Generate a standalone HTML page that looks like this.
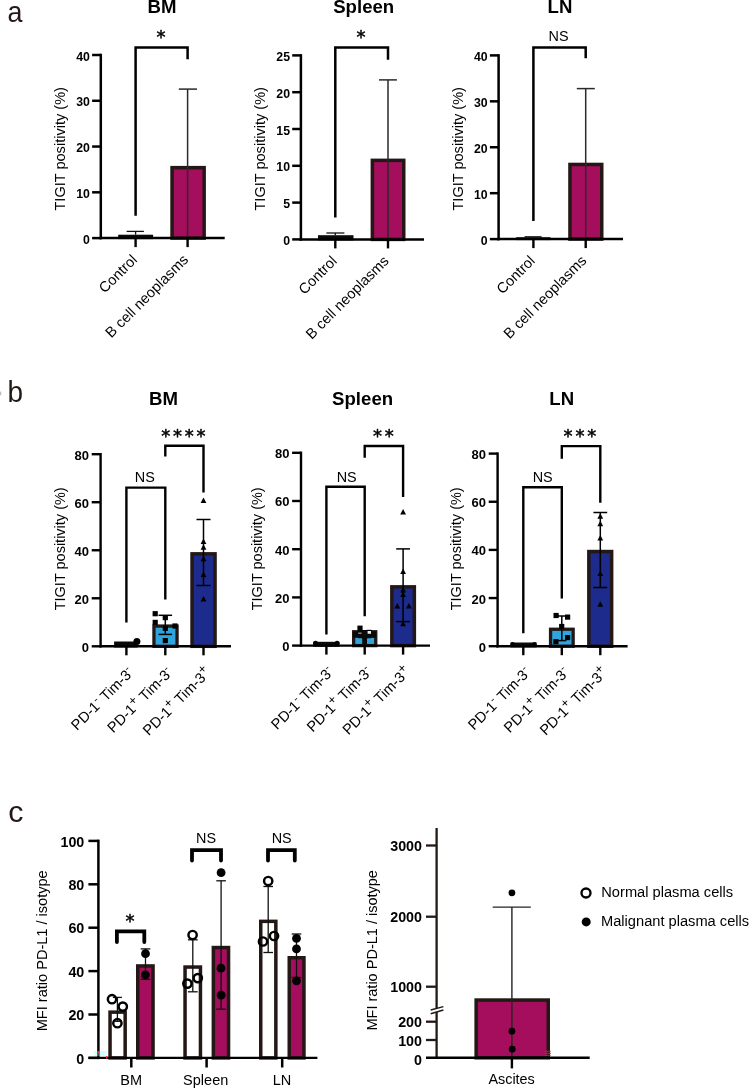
<!DOCTYPE html>
<html><head><meta charset="utf-8"><title>Figure</title>
<style>
html,body{margin:0;padding:0;background:#fff;}
body{width:749px;height:1088px;overflow:hidden;}
svg{display:block;}
text{font-family:'Liberation Sans', Arial, sans-serif;}
</style></head><body>
<svg width="749" height="1088" viewBox="0 0 749 1088">
<rect width="749" height="1088" fill="#fff"/>
<text x="7.50" y="21.50" font-size="29.8" font-weight="normal" text-anchor="start" fill="#231815" textLength="14.92" lengthAdjust="spacingAndGlyphs">a</text>
<text x="7.40" y="401.50" font-size="29.5" font-weight="normal" text-anchor="start" fill="#231815" textLength="15.57" lengthAdjust="spacingAndGlyphs">b</text>
<text x="8.30" y="822.40" font-size="30.4" font-weight="normal" text-anchor="start" fill="#231815">c</text>
<rect x="0" y="391.6" width="1.2" height="3.7" fill="#bbb"/>
<line x1="100.80" y1="53.75" x2="100.80" y2="239.35" stroke="#000" stroke-width="2.5" stroke-linecap="butt"/>
<line x1="92.10" y1="238.10" x2="100.80" y2="238.10" stroke="#000" stroke-width="2.5" stroke-linecap="butt"/>
<text x="89.90" y="243.61" font-size="12.3" font-weight="bold" text-anchor="end" fill="#000">0</text>
<line x1="92.10" y1="192.32" x2="100.80" y2="192.32" stroke="#000" stroke-width="2.5" stroke-linecap="butt"/>
<text x="89.90" y="197.84" font-size="12.3" font-weight="bold" text-anchor="end" fill="#000">10</text>
<line x1="92.10" y1="146.55" x2="100.80" y2="146.55" stroke="#000" stroke-width="2.5" stroke-linecap="butt"/>
<text x="89.90" y="152.06" font-size="12.3" font-weight="bold" text-anchor="end" fill="#000">20</text>
<line x1="92.10" y1="100.78" x2="100.80" y2="100.78" stroke="#000" stroke-width="2.5" stroke-linecap="butt"/>
<text x="89.90" y="106.29" font-size="12.3" font-weight="bold" text-anchor="end" fill="#000">30</text>
<line x1="92.10" y1="55.00" x2="100.80" y2="55.00" stroke="#000" stroke-width="2.5" stroke-linecap="butt"/>
<text x="89.90" y="60.51" font-size="12.3" font-weight="bold" text-anchor="end" fill="#000">40</text>
<rect x="119.20" y="235.70" width="32.90" height="2.40" fill="#0a0a0a" stroke="#0a0a0a" stroke-width="2"/>
<rect x="172.05" y="167.65" width="32.10" height="70.45" fill="#a50d5d" stroke="#231815" stroke-width="3.5"/>
<line x1="135.60" y1="231.40" x2="135.60" y2="234.70" stroke="#111" stroke-width="1.3" stroke-linecap="butt"/>
<line x1="126.60" y1="231.40" x2="143.90" y2="231.40" stroke="#111" stroke-width="1.3" stroke-linecap="butt"/>
<line x1="187.60" y1="89.10" x2="187.60" y2="238.10" stroke="#2a2a2a" stroke-width="1.5" stroke-linecap="butt"/>
<line x1="178.80" y1="89.10" x2="197.00" y2="89.10" stroke="#2a2a2a" stroke-width="1.5" stroke-linecap="butt"/>
<line x1="99.55" y1="238.10" x2="224.70" y2="238.10" stroke="#000" stroke-width="2.5" stroke-linecap="butt"/>
<line x1="135.60" y1="238.10" x2="135.60" y2="247.10" stroke="#000" stroke-width="2.4" stroke-linecap="butt"/>
<line x1="187.60" y1="238.10" x2="187.60" y2="247.10" stroke="#000" stroke-width="2.4" stroke-linecap="butt"/>
<polyline points="135.60,215.70 135.60,47.50 187.60,47.50 187.60,59.20" fill="none" stroke="#000" stroke-width="2.5" stroke-linejoin="miter" stroke-linecap="butt"/>
<text x="162.00" y="13.10" font-size="18.6" font-weight="bold" text-anchor="middle" fill="#000">BM</text>
<text x="160.90" y="43.10" font-size="18.0" text-anchor="middle" style="font-family:'DejaVu Sans', sans-serif" fill="#000" stroke="#000" stroke-width="0.5" stroke-linejoin="round">*</text>
<text x="64.80" y="148.80" font-size="14.7" font-weight="normal" text-anchor="middle" fill="#000" transform="rotate(-90 64.80 148.80)" textLength="123.5" lengthAdjust="spacingAndGlyphs">TIGIT positivity (%)</text>
<text x="138.10" y="260.60" font-size="14.6" font-weight="normal" text-anchor="end" fill="#000" transform="rotate(-45 138.10 260.60)">Control</text>
<text x="189.30" y="260.60" font-size="14.6" font-weight="normal" text-anchor="end" fill="#000" transform="rotate(-45 189.30 260.60)">B cell neoplasms</text>
<line x1="300.90" y1="54.15" x2="300.90" y2="240.65" stroke="#000" stroke-width="2.5" stroke-linecap="butt"/>
<line x1="292.20" y1="239.40" x2="300.90" y2="239.40" stroke="#000" stroke-width="2.5" stroke-linecap="butt"/>
<text x="290.00" y="244.91" font-size="12.3" font-weight="bold" text-anchor="end" fill="#000">0</text>
<line x1="292.20" y1="202.60" x2="300.90" y2="202.60" stroke="#000" stroke-width="2.5" stroke-linecap="butt"/>
<text x="290.00" y="208.11" font-size="12.3" font-weight="bold" text-anchor="end" fill="#000">5</text>
<line x1="292.20" y1="165.80" x2="300.90" y2="165.80" stroke="#000" stroke-width="2.5" stroke-linecap="butt"/>
<text x="290.00" y="171.31" font-size="12.3" font-weight="bold" text-anchor="end" fill="#000">10</text>
<line x1="292.20" y1="129.00" x2="300.90" y2="129.00" stroke="#000" stroke-width="2.5" stroke-linecap="butt"/>
<text x="290.00" y="134.51" font-size="12.3" font-weight="bold" text-anchor="end" fill="#000">15</text>
<line x1="292.20" y1="92.20" x2="300.90" y2="92.20" stroke="#000" stroke-width="2.5" stroke-linecap="butt"/>
<text x="290.00" y="97.71" font-size="12.3" font-weight="bold" text-anchor="end" fill="#000">20</text>
<line x1="292.20" y1="55.40" x2="300.90" y2="55.40" stroke="#000" stroke-width="2.5" stroke-linecap="butt"/>
<text x="290.00" y="60.91" font-size="12.3" font-weight="bold" text-anchor="end" fill="#000">25</text>
<rect x="319.00" y="236.20" width="33.50" height="3.20" fill="#0a0a0a" stroke="#0a0a0a" stroke-width="2"/>
<rect x="372.35" y="160.35" width="31.40" height="79.05" fill="#a50d5d" stroke="#231815" stroke-width="3.5"/>
<line x1="335.30" y1="233.00" x2="335.30" y2="235.20" stroke="#111" stroke-width="1.3" stroke-linecap="butt"/>
<line x1="326.40" y1="233.00" x2="344.40" y2="233.00" stroke="#111" stroke-width="1.3" stroke-linecap="butt"/>
<line x1="388.00" y1="79.90" x2="388.00" y2="239.40" stroke="#2a2a2a" stroke-width="1.5" stroke-linecap="butt"/>
<line x1="379.00" y1="79.90" x2="396.90" y2="79.90" stroke="#2a2a2a" stroke-width="1.5" stroke-linecap="butt"/>
<line x1="299.65" y1="239.40" x2="424.00" y2="239.40" stroke="#000" stroke-width="2.5" stroke-linecap="butt"/>
<line x1="335.30" y1="239.40" x2="335.30" y2="248.40" stroke="#000" stroke-width="2.4" stroke-linecap="butt"/>
<line x1="388.00" y1="239.40" x2="388.00" y2="248.40" stroke="#000" stroke-width="2.4" stroke-linecap="butt"/>
<polyline points="335.30,217.60 335.30,47.50 388.00,47.50 388.00,59.70" fill="none" stroke="#000" stroke-width="2.5" stroke-linejoin="miter" stroke-linecap="butt"/>
<text x="363.70" y="13.10" font-size="18.6" font-weight="bold" text-anchor="middle" fill="#000">Spleen</text>
<text x="361.00" y="43.10" font-size="18.0" text-anchor="middle" style="font-family:'DejaVu Sans', sans-serif" fill="#000" stroke="#000" stroke-width="0.5" stroke-linejoin="round">*</text>
<text x="264.80" y="148.80" font-size="14.7" font-weight="normal" text-anchor="middle" fill="#000" transform="rotate(-90 264.80 148.80)" textLength="123.5" lengthAdjust="spacingAndGlyphs">TIGIT positivity (%)</text>
<text x="337.80" y="261.90" font-size="14.6" font-weight="normal" text-anchor="end" fill="#000" transform="rotate(-45 337.80 261.90)">Control</text>
<text x="389.70" y="261.90" font-size="14.6" font-weight="normal" text-anchor="end" fill="#000" transform="rotate(-45 389.70 261.90)">B cell neoplasms</text>
<line x1="498.60" y1="54.15" x2="498.60" y2="240.35" stroke="#000" stroke-width="2.5" stroke-linecap="butt"/>
<line x1="489.90" y1="239.10" x2="498.60" y2="239.10" stroke="#000" stroke-width="2.5" stroke-linecap="butt"/>
<text x="487.70" y="244.61" font-size="12.3" font-weight="bold" text-anchor="end" fill="#000">0</text>
<line x1="489.90" y1="193.18" x2="498.60" y2="193.18" stroke="#000" stroke-width="2.5" stroke-linecap="butt"/>
<text x="487.70" y="198.69" font-size="12.3" font-weight="bold" text-anchor="end" fill="#000">10</text>
<line x1="489.90" y1="147.25" x2="498.60" y2="147.25" stroke="#000" stroke-width="2.5" stroke-linecap="butt"/>
<text x="487.70" y="152.76" font-size="12.3" font-weight="bold" text-anchor="end" fill="#000">20</text>
<line x1="489.90" y1="101.33" x2="498.60" y2="101.33" stroke="#000" stroke-width="2.5" stroke-linecap="butt"/>
<text x="487.70" y="106.84" font-size="12.3" font-weight="bold" text-anchor="end" fill="#000">30</text>
<line x1="489.90" y1="55.40" x2="498.60" y2="55.40" stroke="#000" stroke-width="2.5" stroke-linecap="butt"/>
<text x="487.70" y="60.91" font-size="12.3" font-weight="bold" text-anchor="end" fill="#000">40</text>
<rect x="517.20" y="238.20" width="32.30" height="0.90" fill="#0a0a0a" stroke="#0a0a0a" stroke-width="2"/>
<rect x="569.95" y="164.45" width="31.80" height="74.65" fill="#a50d5d" stroke="#231815" stroke-width="3.5"/>
<line x1="533.40" y1="236.80" x2="533.40" y2="237.20" stroke="#111" stroke-width="1.3" stroke-linecap="butt"/>
<line x1="524.60" y1="236.80" x2="541.60" y2="236.80" stroke="#111" stroke-width="1.3" stroke-linecap="butt"/>
<line x1="585.70" y1="88.60" x2="585.70" y2="239.10" stroke="#2a2a2a" stroke-width="1.5" stroke-linecap="butt"/>
<line x1="576.80" y1="88.60" x2="594.80" y2="88.60" stroke="#2a2a2a" stroke-width="1.5" stroke-linecap="butt"/>
<line x1="497.35" y1="239.10" x2="623.00" y2="239.10" stroke="#000" stroke-width="2.5" stroke-linecap="butt"/>
<line x1="533.40" y1="239.10" x2="533.40" y2="248.10" stroke="#000" stroke-width="2.4" stroke-linecap="butt"/>
<line x1="585.70" y1="239.10" x2="585.70" y2="248.10" stroke="#000" stroke-width="2.4" stroke-linecap="butt"/>
<polyline points="533.40,220.90 533.40,47.50 585.70,47.50 585.70,58.20" fill="none" stroke="#000" stroke-width="2.5" stroke-linejoin="miter" stroke-linecap="butt"/>
<text x="560.00" y="13.10" font-size="18.6" font-weight="bold" text-anchor="middle" fill="#000">LN</text>
<text x="558.50" y="40.70" font-size="14.4" font-weight="normal" text-anchor="middle" fill="#000">NS</text>
<text x="462.60" y="148.80" font-size="14.7" font-weight="normal" text-anchor="middle" fill="#000" transform="rotate(-90 462.60 148.80)" textLength="123.5" lengthAdjust="spacingAndGlyphs">TIGIT positivity (%)</text>
<text x="535.90" y="261.60" font-size="14.6" font-weight="normal" text-anchor="end" fill="#000" transform="rotate(-45 535.90 261.60)">Control</text>
<text x="587.40" y="261.60" font-size="14.6" font-weight="normal" text-anchor="end" fill="#000" transform="rotate(-45 587.40 261.60)">B cell neoplasms</text>
<line x1="100.60" y1="453.00" x2="100.60" y2="647.50" stroke="#000" stroke-width="2.4" stroke-linecap="butt"/>
<line x1="91.70" y1="646.30" x2="100.60" y2="646.30" stroke="#000" stroke-width="2.4" stroke-linecap="butt"/>
<text x="89.00" y="651.76" font-size="13" font-weight="bold" text-anchor="end" fill="#000">0</text>
<line x1="91.70" y1="598.27" x2="100.60" y2="598.27" stroke="#000" stroke-width="2.4" stroke-linecap="butt"/>
<text x="89.00" y="603.74" font-size="13" font-weight="bold" text-anchor="end" fill="#000">20</text>
<line x1="91.70" y1="550.25" x2="100.60" y2="550.25" stroke="#000" stroke-width="2.4" stroke-linecap="butt"/>
<text x="89.00" y="555.71" font-size="13" font-weight="bold" text-anchor="end" fill="#000">40</text>
<line x1="91.70" y1="502.22" x2="100.60" y2="502.22" stroke="#000" stroke-width="2.4" stroke-linecap="butt"/>
<text x="89.00" y="507.68" font-size="13" font-weight="bold" text-anchor="end" fill="#000">60</text>
<line x1="91.70" y1="454.20" x2="100.60" y2="454.20" stroke="#000" stroke-width="2.4" stroke-linecap="butt"/>
<text x="89.00" y="459.66" font-size="13" font-weight="bold" text-anchor="end" fill="#000">80</text>
<rect x="115.30" y="642.70" width="21.00" height="3.60" fill="#0a0a0a" stroke="#0a0a0a" stroke-width="2.4"/>
<rect x="153.95" y="626.05" width="23.10" height="20.25" fill="#2fa5dd" stroke="#231815" stroke-width="3.3"/>
<rect x="192.05" y="553.85" width="23.00" height="92.45" fill="#1c2b8c" stroke="#231815" stroke-width="3.5"/>
<circle cx="136.90" cy="641.40" r="3.5" fill="#000"/>
<line x1="165.30" y1="615.30" x2="165.30" y2="634.40" stroke="#000" stroke-width="1.5" stroke-linecap="butt"/>
<line x1="158.50" y1="615.30" x2="172.10" y2="615.30" stroke="#000" stroke-width="1.5" stroke-linecap="butt"/>
<line x1="158.50" y1="634.40" x2="172.10" y2="634.40" stroke="#000" stroke-width="1.5" stroke-linecap="butt"/>
<line x1="203.50" y1="519.50" x2="203.50" y2="585.50" stroke="#000" stroke-width="1.5" stroke-linecap="butt"/>
<line x1="196.50" y1="519.50" x2="210.50" y2="519.50" stroke="#000" stroke-width="1.5" stroke-linecap="butt"/>
<line x1="196.50" y1="585.50" x2="210.50" y2="585.50" stroke="#000" stroke-width="1.5" stroke-linecap="butt"/>
<rect x="152.60" y="611.10" width="5.20" height="5.20" fill="#000"/>
<rect x="162.70" y="615.00" width="5.20" height="5.20" fill="#000"/>
<rect x="152.60" y="619.80" width="5.20" height="5.20" fill="#000"/>
<rect x="172.40" y="623.40" width="5.20" height="5.20" fill="#000"/>
<rect x="162.70" y="625.70" width="5.20" height="5.20" fill="#000"/>
<rect x="162.70" y="638.00" width="5.20" height="5.20" fill="#000"/>
<polygon points="203.50,497.60 200.60,503.10 206.40,503.10" fill="#000"/>
<polygon points="203.50,538.60 200.60,544.10 206.40,544.10" fill="#000"/>
<polygon points="203.50,544.30 200.60,549.80 206.40,549.80" fill="#000"/>
<polygon points="203.50,555.80 200.60,561.30 206.40,561.30" fill="#000"/>
<polygon points="203.50,571.50 200.60,577.00 206.40,577.00" fill="#000"/>
<polygon points="203.50,596.00 200.60,601.50 206.40,601.50" fill="#000"/>
<line x1="99.40" y1="646.30" x2="231.00" y2="646.30" stroke="#000" stroke-width="2.4" stroke-linecap="butt"/>
<line x1="126.40" y1="646.30" x2="126.40" y2="655.30" stroke="#000" stroke-width="2.4" stroke-linecap="butt"/>
<line x1="165.30" y1="646.30" x2="165.30" y2="655.30" stroke="#000" stroke-width="2.4" stroke-linecap="butt"/>
<line x1="203.50" y1="646.30" x2="203.50" y2="655.30" stroke="#000" stroke-width="2.4" stroke-linecap="butt"/>
<polyline points="126.40,622.40 126.40,487.60 165.30,487.60 165.30,599.40" fill="none" stroke="#000" stroke-width="2.4" stroke-linejoin="miter" stroke-linecap="butt"/>
<polyline points="165.30,456.60 165.30,445.70 203.50,445.70 203.50,492.60" fill="none" stroke="#000" stroke-width="2.4" stroke-linejoin="miter" stroke-linecap="butt"/>
<text x="163.50" y="405.20" font-size="18.6" font-weight="bold" text-anchor="middle" fill="#000">BM</text>
<text x="144.80" y="481.60" font-size="14.4" font-weight="normal" text-anchor="middle" fill="#000">NS</text>
<text x="165.70 177.40 189.20 200.90" y="442.00" font-size="18.0" text-anchor="middle" style="font-family:'DejaVu Sans', sans-serif" fill="#000" stroke="#000" stroke-width="0.5" stroke-linejoin="round">****</text>
<text x="65.20" y="548.80" font-size="14.7" font-weight="normal" text-anchor="middle" fill="#000" transform="rotate(-90 65.20 548.80)" textLength="123" lengthAdjust="spacingAndGlyphs">TIGIT positivity (%)</text>
<text x="134.70" y="673.30" font-size="14.6" font-weight="normal" text-anchor="end" fill="#000" transform="rotate(-45 134.70 673.30)">PD-1<tspan font-size="11.5" dy="-5.5">-</tspan><tspan dy="5.5"> Tim-3</tspan><tspan font-size="11.5" dy="-5.5">-</tspan></text>
<text x="173.60" y="673.30" font-size="14.6" font-weight="normal" text-anchor="end" fill="#000" transform="rotate(-45 173.60 673.30)">PD-1<tspan font-size="13" dy="-5.5">+</tspan><tspan dy="5.5"> Tim-3</tspan><tspan font-size="11.5" dy="-5.5">-</tspan></text>
<text x="211.80" y="673.30" font-size="14.6" font-weight="normal" text-anchor="end" fill="#000" transform="rotate(-45 211.80 673.30)">PD-1<tspan font-size="13" dy="-5.5">+</tspan><tspan dy="5.5"> Tim-3</tspan><tspan font-size="13" dy="-5.5">+</tspan></text>
<line x1="301.00" y1="451.60" x2="301.00" y2="646.80" stroke="#000" stroke-width="2.4" stroke-linecap="butt"/>
<line x1="292.10" y1="645.60" x2="301.00" y2="645.60" stroke="#000" stroke-width="2.4" stroke-linecap="butt"/>
<text x="289.40" y="651.06" font-size="13" font-weight="bold" text-anchor="end" fill="#000">0</text>
<line x1="292.10" y1="597.40" x2="301.00" y2="597.40" stroke="#000" stroke-width="2.4" stroke-linecap="butt"/>
<text x="289.40" y="602.86" font-size="13" font-weight="bold" text-anchor="end" fill="#000">20</text>
<line x1="292.10" y1="549.20" x2="301.00" y2="549.20" stroke="#000" stroke-width="2.4" stroke-linecap="butt"/>
<text x="289.40" y="554.66" font-size="13" font-weight="bold" text-anchor="end" fill="#000">40</text>
<line x1="292.10" y1="501.00" x2="301.00" y2="501.00" stroke="#000" stroke-width="2.4" stroke-linecap="butt"/>
<text x="289.40" y="506.46" font-size="13" font-weight="bold" text-anchor="end" fill="#000">60</text>
<line x1="292.10" y1="452.80" x2="301.00" y2="452.80" stroke="#000" stroke-width="2.4" stroke-linecap="butt"/>
<text x="289.40" y="458.26" font-size="13" font-weight="bold" text-anchor="end" fill="#000">80</text>
<rect x="314.50" y="643.00" width="23.70" height="2.60" fill="#0a0a0a" stroke="#0a0a0a" stroke-width="2.4"/>
<rect x="353.65" y="631.75" width="22.10" height="13.85" fill="#2fa5dd" stroke="#231815" stroke-width="3.3"/>
<rect x="391.85" y="586.85" width="22.50" height="58.75" fill="#1c2b8c" stroke="#231815" stroke-width="3.5"/>
<circle cx="315.60" cy="643.30" r="2.5" fill="#000"/>
<circle cx="337.10" cy="643.30" r="2.5" fill="#000"/>
<line x1="364.70" y1="630.80" x2="364.70" y2="637.50" stroke="#000" stroke-width="1.5" stroke-linecap="butt"/>
<line x1="358.20" y1="630.80" x2="371.20" y2="630.80" stroke="#000" stroke-width="1.5" stroke-linecap="butt"/>
<line x1="358.20" y1="637.50" x2="371.20" y2="637.50" stroke="#000" stroke-width="1.5" stroke-linecap="butt"/>
<line x1="403.10" y1="548.90" x2="403.10" y2="621.60" stroke="#000" stroke-width="1.5" stroke-linecap="butt"/>
<line x1="396.20" y1="548.90" x2="410.00" y2="548.90" stroke="#000" stroke-width="1.5" stroke-linecap="butt"/>
<line x1="396.20" y1="621.60" x2="410.00" y2="621.60" stroke="#000" stroke-width="1.5" stroke-linecap="butt"/>
<rect x="357.40" y="625.60" width="5.20" height="5.20" fill="#000"/>
<rect x="366.40" y="629.80" width="5.20" height="5.20" fill="#000"/>
<rect x="353.40" y="631.90" width="5.20" height="5.20" fill="#000"/>
<rect x="370.40" y="631.90" width="5.20" height="5.20" fill="#000"/>
<rect x="362.10" y="633.40" width="5.20" height="5.20" fill="#000"/>
<polygon points="403.10,509.00 400.20,514.50 406.00,514.50" fill="#000"/>
<polygon points="403.10,568.40 400.20,573.90 406.00,573.90" fill="#000"/>
<polygon points="403.10,587.00 400.20,592.50 406.00,592.50" fill="#000"/>
<polygon points="403.10,591.50 400.20,597.00 406.00,597.00" fill="#000"/>
<polygon points="397.30,603.10 394.40,608.60 400.20,608.60" fill="#000"/>
<polygon points="408.90,603.10 406.00,608.60 411.80,608.60" fill="#000"/>
<polygon points="403.10,620.70 400.20,626.20 406.00,626.20" fill="#000"/>
<line x1="299.80" y1="645.60" x2="430.00" y2="645.60" stroke="#000" stroke-width="2.4" stroke-linecap="butt"/>
<line x1="326.40" y1="645.60" x2="326.40" y2="654.60" stroke="#000" stroke-width="2.4" stroke-linecap="butt"/>
<line x1="364.70" y1="645.60" x2="364.70" y2="654.60" stroke="#000" stroke-width="2.4" stroke-linecap="butt"/>
<line x1="403.10" y1="645.60" x2="403.10" y2="654.60" stroke="#000" stroke-width="2.4" stroke-linecap="butt"/>
<polyline points="326.40,634.40 326.40,486.70 364.70,486.70 364.70,616.20" fill="none" stroke="#000" stroke-width="2.4" stroke-linejoin="miter" stroke-linecap="butt"/>
<polyline points="364.70,457.70 364.70,446.00 403.10,446.00 403.10,497.00" fill="none" stroke="#000" stroke-width="2.4" stroke-linejoin="miter" stroke-linecap="butt"/>
<text x="362.60" y="405.20" font-size="18.6" font-weight="bold" text-anchor="middle" fill="#000">Spleen</text>
<text x="346.70" y="481.60" font-size="14.4" font-weight="normal" text-anchor="middle" fill="#000">NS</text>
<text x="377.50 389.20" y="442.00" font-size="18.0" text-anchor="middle" style="font-family:'DejaVu Sans', sans-serif" fill="#000" stroke="#000" stroke-width="0.5" stroke-linejoin="round">**</text>
<text x="262.50" y="548.80" font-size="14.7" font-weight="normal" text-anchor="middle" fill="#000" transform="rotate(-90 262.50 548.80)" textLength="123" lengthAdjust="spacingAndGlyphs">TIGIT positivity (%)</text>
<text x="334.70" y="672.60" font-size="14.6" font-weight="normal" text-anchor="end" fill="#000" transform="rotate(-45 334.70 672.60)">PD-1<tspan font-size="11.5" dy="-5.5">-</tspan><tspan dy="5.5"> Tim-3</tspan><tspan font-size="11.5" dy="-5.5">-</tspan></text>
<text x="373.00" y="672.60" font-size="14.6" font-weight="normal" text-anchor="end" fill="#000" transform="rotate(-45 373.00 672.60)">PD-1<tspan font-size="13" dy="-5.5">+</tspan><tspan dy="5.5"> Tim-3</tspan><tspan font-size="11.5" dy="-5.5">-</tspan></text>
<text x="411.40" y="672.60" font-size="14.6" font-weight="normal" text-anchor="end" fill="#000" transform="rotate(-45 411.40 672.60)">PD-1<tspan font-size="13" dy="-5.5">+</tspan><tspan dy="5.5"> Tim-3</tspan><tspan font-size="13" dy="-5.5">+</tspan></text>
<rect x="353.6" y="631.5" width="22.2" height="6.3" fill="#0a0a0a"/>
<rect x="367.6" y="631.0" width="3.4" height="2.8" fill="#e8e8e8"/>
<rect x="358.3" y="632.6" width="3.2" height="1.2" fill="#aaa"/>
<rect x="362.2" y="637" width="4.8" height="8" fill="#0a0a0a"/>
<line x1="497.60" y1="452.40" x2="497.60" y2="647.40" stroke="#000" stroke-width="2.4" stroke-linecap="butt"/>
<line x1="488.70" y1="646.20" x2="497.60" y2="646.20" stroke="#000" stroke-width="2.4" stroke-linecap="butt"/>
<text x="486.00" y="651.66" font-size="13" font-weight="bold" text-anchor="end" fill="#000">0</text>
<line x1="488.70" y1="598.05" x2="497.60" y2="598.05" stroke="#000" stroke-width="2.4" stroke-linecap="butt"/>
<text x="486.00" y="603.51" font-size="13" font-weight="bold" text-anchor="end" fill="#000">20</text>
<line x1="488.70" y1="549.90" x2="497.60" y2="549.90" stroke="#000" stroke-width="2.4" stroke-linecap="butt"/>
<text x="486.00" y="555.36" font-size="13" font-weight="bold" text-anchor="end" fill="#000">40</text>
<line x1="488.70" y1="501.75" x2="497.60" y2="501.75" stroke="#000" stroke-width="2.4" stroke-linecap="butt"/>
<text x="486.00" y="507.21" font-size="13" font-weight="bold" text-anchor="end" fill="#000">60</text>
<line x1="488.70" y1="453.60" x2="497.60" y2="453.60" stroke="#000" stroke-width="2.4" stroke-linecap="butt"/>
<text x="486.00" y="459.06" font-size="13" font-weight="bold" text-anchor="end" fill="#000">80</text>
<rect x="511.70" y="643.70" width="23.70" height="2.50" fill="#0a0a0a" stroke="#0a0a0a" stroke-width="2.4"/>
<rect x="550.55" y="629.25" width="22.60" height="16.95" fill="#2fa5dd" stroke="#231815" stroke-width="3.3"/>
<rect x="588.85" y="551.55" width="22.80" height="94.65" fill="#1c2b8c" stroke="#231815" stroke-width="3.5"/>
<circle cx="512.60" cy="644.20" r="2.2" fill="#000"/>
<circle cx="534.40" cy="644.20" r="2.2" fill="#000"/>
<line x1="561.80" y1="616.00" x2="561.80" y2="640.60" stroke="#000" stroke-width="1.5" stroke-linecap="butt"/>
<line x1="557.30" y1="616.00" x2="566.30" y2="616.00" stroke="#000" stroke-width="1.5" stroke-linecap="butt"/>
<line x1="557.30" y1="640.60" x2="566.30" y2="640.60" stroke="#000" stroke-width="1.5" stroke-linecap="butt"/>
<line x1="600.30" y1="512.50" x2="600.30" y2="587.50" stroke="#000" stroke-width="1.5" stroke-linecap="butt"/>
<line x1="593.40" y1="512.50" x2="607.20" y2="512.50" stroke="#000" stroke-width="1.5" stroke-linecap="butt"/>
<line x1="593.40" y1="587.50" x2="607.20" y2="587.50" stroke="#000" stroke-width="1.5" stroke-linecap="butt"/>
<rect x="553.50" y="612.90" width="5.20" height="5.20" fill="#000"/>
<rect x="565.00" y="614.50" width="5.20" height="5.20" fill="#000"/>
<rect x="559.10" y="623.90" width="5.20" height="5.20" fill="#000"/>
<rect x="565.00" y="635.00" width="5.20" height="5.20" fill="#000"/>
<rect x="553.30" y="639.10" width="5.20" height="5.20" fill="#000"/>
<polygon points="600.30,513.30 597.40,518.80 603.20,518.80" fill="#000"/>
<polygon points="600.30,520.70 597.40,526.20 603.20,526.20" fill="#000"/>
<polygon points="600.30,534.90 597.40,540.40 603.20,540.40" fill="#000"/>
<polygon points="600.30,570.40 597.40,575.90 603.20,575.90" fill="#000"/>
<polygon points="600.30,601.30 597.40,606.80 603.20,606.80" fill="#000"/>
<line x1="496.40" y1="646.20" x2="627.60" y2="646.20" stroke="#000" stroke-width="2.4" stroke-linecap="butt"/>
<line x1="523.30" y1="646.20" x2="523.30" y2="655.20" stroke="#000" stroke-width="2.4" stroke-linecap="butt"/>
<line x1="561.80" y1="646.20" x2="561.80" y2="655.20" stroke="#000" stroke-width="2.4" stroke-linecap="butt"/>
<line x1="600.30" y1="646.20" x2="600.30" y2="655.20" stroke="#000" stroke-width="2.4" stroke-linecap="butt"/>
<polyline points="523.30,633.30 523.30,487.20 561.80,487.20 561.80,598.50" fill="none" stroke="#000" stroke-width="2.4" stroke-linejoin="miter" stroke-linecap="butt"/>
<polyline points="561.80,458.70 561.80,446.10 600.30,446.10 600.30,502.70" fill="none" stroke="#000" stroke-width="2.4" stroke-linejoin="miter" stroke-linecap="butt"/>
<text x="561.70" y="405.20" font-size="18.6" font-weight="bold" text-anchor="middle" fill="#000">LN</text>
<text x="542.70" y="481.60" font-size="14.4" font-weight="normal" text-anchor="middle" fill="#000">NS</text>
<text x="568.10 580.00 591.70" y="442.00" font-size="18.0" text-anchor="middle" style="font-family:'DejaVu Sans', sans-serif" fill="#000" stroke="#000" stroke-width="0.5" stroke-linejoin="round">***</text>
<text x="461.50" y="548.80" font-size="14.7" font-weight="normal" text-anchor="middle" fill="#000" transform="rotate(-90 461.50 548.80)" textLength="123" lengthAdjust="spacingAndGlyphs">TIGIT positivity (%)</text>
<text x="531.60" y="673.20" font-size="14.6" font-weight="normal" text-anchor="end" fill="#000" transform="rotate(-45 531.60 673.20)">PD-1<tspan font-size="11.5" dy="-5.5">-</tspan><tspan dy="5.5"> Tim-3</tspan><tspan font-size="11.5" dy="-5.5">-</tspan></text>
<text x="570.10" y="673.20" font-size="14.6" font-weight="normal" text-anchor="end" fill="#000" transform="rotate(-45 570.10 673.20)">PD-1<tspan font-size="13" dy="-5.5">+</tspan><tspan dy="5.5"> Tim-3</tspan><tspan font-size="11.5" dy="-5.5">-</tspan></text>
<text x="608.60" y="673.20" font-size="14.6" font-weight="normal" text-anchor="end" fill="#000" transform="rotate(-45 608.60 673.20)">PD-1<tspan font-size="13" dy="-5.5">+</tspan><tspan dy="5.5"> Tim-3</tspan><tspan font-size="13" dy="-5.5">+</tspan></text>
<line x1="98.40" y1="839.65" x2="98.40" y2="1059.15" stroke="#000" stroke-width="2.5" stroke-linecap="butt"/>
<line x1="88.40" y1="1057.90" x2="98.40" y2="1057.90" stroke="#000" stroke-width="2.5" stroke-linecap="butt"/>
<text x="84.30" y="1063.62" font-size="14.3" font-weight="bold" text-anchor="end" fill="#000">0</text>
<line x1="88.40" y1="1014.50" x2="98.40" y2="1014.50" stroke="#000" stroke-width="2.5" stroke-linecap="butt"/>
<text x="84.30" y="1020.22" font-size="14.3" font-weight="bold" text-anchor="end" fill="#000">20</text>
<line x1="88.40" y1="971.10" x2="98.40" y2="971.10" stroke="#000" stroke-width="2.5" stroke-linecap="butt"/>
<text x="84.30" y="976.82" font-size="14.3" font-weight="bold" text-anchor="end" fill="#000">40</text>
<line x1="88.40" y1="927.70" x2="98.40" y2="927.70" stroke="#000" stroke-width="2.5" stroke-linecap="butt"/>
<text x="84.30" y="933.42" font-size="14.3" font-weight="bold" text-anchor="end" fill="#000">60</text>
<line x1="88.40" y1="884.30" x2="98.40" y2="884.30" stroke="#000" stroke-width="2.5" stroke-linecap="butt"/>
<text x="84.30" y="890.02" font-size="14.3" font-weight="bold" text-anchor="end" fill="#000">80</text>
<line x1="88.40" y1="840.90" x2="98.40" y2="840.90" stroke="#000" stroke-width="2.5" stroke-linecap="butt"/>
<text x="84.30" y="846.62" font-size="14.3" font-weight="bold" text-anchor="end" fill="#000">100</text>
<rect x="110.05" y="1012.15" width="15.10" height="45.75" fill="#fff" stroke="#231815" stroke-width="3.5"/>
<rect x="137.75" y="965.95" width="15.30" height="91.95" fill="#a50d5d" stroke="#231815" stroke-width="3.5"/>
<rect x="185.05" y="967.05" width="15.40" height="90.85" fill="#fff" stroke="#231815" stroke-width="3.5"/>
<rect x="213.35" y="947.55" width="15.20" height="110.35" fill="#a50d5d" stroke="#231815" stroke-width="3.5"/>
<rect x="260.75" y="921.35" width="15.10" height="136.55" fill="#fff" stroke="#231815" stroke-width="3.5"/>
<rect x="289.25" y="957.75" width="14.70" height="100.15" fill="#a50d5d" stroke="#231815" stroke-width="3.5"/>
<line x1="117.40" y1="997.40" x2="117.40" y2="1021.30" stroke="#111" stroke-width="1.3" stroke-linecap="butt"/>
<line x1="112.90" y1="997.40" x2="121.90" y2="997.40" stroke="#111" stroke-width="1.3" stroke-linecap="butt"/>
<line x1="112.90" y1="1021.30" x2="121.90" y2="1021.30" stroke="#111" stroke-width="1.3" stroke-linecap="butt"/>
<line x1="145.50" y1="948.90" x2="145.50" y2="979.30" stroke="#111" stroke-width="1.3" stroke-linecap="butt"/>
<line x1="140.70" y1="948.90" x2="150.30" y2="948.90" stroke="#111" stroke-width="1.3" stroke-linecap="butt"/>
<line x1="140.70" y1="979.30" x2="150.30" y2="979.30" stroke="#111" stroke-width="1.3" stroke-linecap="butt"/>
<line x1="192.80" y1="939.80" x2="192.80" y2="991.80" stroke="#111" stroke-width="1.3" stroke-linecap="butt"/>
<line x1="187.90" y1="939.80" x2="197.70" y2="939.80" stroke="#111" stroke-width="1.3" stroke-linecap="butt"/>
<line x1="187.90" y1="991.80" x2="197.70" y2="991.80" stroke="#111" stroke-width="1.3" stroke-linecap="butt"/>
<line x1="221.10" y1="880.80" x2="221.10" y2="1009.20" stroke="#111" stroke-width="1.3" stroke-linecap="butt"/>
<line x1="216.30" y1="880.80" x2="225.90" y2="880.80" stroke="#111" stroke-width="1.3" stroke-linecap="butt"/>
<line x1="216.30" y1="1009.20" x2="225.90" y2="1009.20" stroke="#111" stroke-width="1.3" stroke-linecap="butt"/>
<line x1="268.20" y1="886.50" x2="268.20" y2="952.50" stroke="#111" stroke-width="1.3" stroke-linecap="butt"/>
<line x1="263.40" y1="886.50" x2="273.00" y2="886.50" stroke="#111" stroke-width="1.3" stroke-linecap="butt"/>
<line x1="263.40" y1="952.50" x2="273.00" y2="952.50" stroke="#111" stroke-width="1.3" stroke-linecap="butt"/>
<line x1="296.50" y1="934.00" x2="296.50" y2="977.50" stroke="#111" stroke-width="1.3" stroke-linecap="butt"/>
<line x1="291.70" y1="934.00" x2="301.30" y2="934.00" stroke="#111" stroke-width="1.3" stroke-linecap="butt"/>
<line x1="291.70" y1="977.50" x2="301.30" y2="977.50" stroke="#111" stroke-width="1.3" stroke-linecap="butt"/>
<circle cx="112.00" cy="999.20" r="4.15" fill="none" stroke="#000" stroke-width="2.45"/>
<circle cx="122.80" cy="1006.60" r="4.15" fill="none" stroke="#000" stroke-width="2.45"/>
<circle cx="117.40" cy="1023.20" r="4.15" fill="none" stroke="#000" stroke-width="2.45"/>
<circle cx="192.60" cy="935.00" r="4.15" fill="none" stroke="#000" stroke-width="2.45"/>
<circle cx="187.40" cy="983.60" r="4.15" fill="none" stroke="#000" stroke-width="2.45"/>
<circle cx="197.80" cy="978.10" r="4.15" fill="none" stroke="#000" stroke-width="2.45"/>
<circle cx="268.20" cy="881.00" r="4.15" fill="none" stroke="#000" stroke-width="2.45"/>
<circle cx="263.00" cy="941.50" r="4.15" fill="none" stroke="#000" stroke-width="2.45"/>
<circle cx="274.00" cy="936.00" r="4.15" fill="none" stroke="#000" stroke-width="2.45"/>
<circle cx="145.50" cy="953.70" r="4.4" fill="#000"/>
<circle cx="145.40" cy="974.80" r="4.4" fill="#000"/>
<circle cx="221.10" cy="872.70" r="4.4" fill="#000"/>
<circle cx="221.00" cy="968.20" r="4.4" fill="#000"/>
<circle cx="221.20" cy="995.20" r="4.4" fill="#000"/>
<circle cx="296.50" cy="938.40" r="4.4" fill="#000"/>
<circle cx="296.50" cy="948.90" r="4.4" fill="#000"/>
<circle cx="296.50" cy="980.80" r="4.4" fill="#000"/>
<line x1="88.40" y1="1057.90" x2="317.40" y2="1057.90" stroke="#000" stroke-width="2.3" stroke-linecap="butt"/>
<line x1="131.30" y1="1057.90" x2="131.30" y2="1067.50" stroke="#000" stroke-width="2.5" stroke-linecap="butt"/>
<line x1="206.60" y1="1057.90" x2="206.60" y2="1067.50" stroke="#000" stroke-width="2.5" stroke-linecap="butt"/>
<line x1="282.20" y1="1057.90" x2="282.20" y2="1067.50" stroke="#000" stroke-width="2.5" stroke-linecap="butt"/>
<polyline points="116.90,942.00 116.90,931.40 144.30,931.40 144.30,942.00" fill="none" stroke="#000" stroke-width="3.8" stroke-linejoin="miter" stroke-linecap="round"/>
<polyline points="192.00,860.50 192.00,850.20 221.00,850.20 221.00,860.50" fill="none" stroke="#000" stroke-width="3.8" stroke-linejoin="miter" stroke-linecap="round"/>
<polyline points="268.00,860.50 268.00,850.20 294.80,850.20 294.80,860.50" fill="none" stroke="#000" stroke-width="3.8" stroke-linejoin="miter" stroke-linecap="round"/>
<text x="130.00" y="927.10" font-size="18.0" text-anchor="middle" style="font-family:'DejaVu Sans', sans-serif" fill="#000" stroke="#000" stroke-width="0.5" stroke-linejoin="round">*</text>
<text x="206.10" y="842.70" font-size="14.4" font-weight="normal" text-anchor="middle" fill="#000">NS</text>
<text x="281.70" y="842.70" font-size="14.4" font-weight="normal" text-anchor="middle" fill="#000">NS</text>
<text x="131.10" y="1084.60" font-size="14.5" font-weight="normal" text-anchor="middle" fill="#000">BM</text>
<text x="205.70" y="1084.60" font-size="14.5" font-weight="normal" text-anchor="middle" fill="#000">Spleen</text>
<text x="282.00" y="1084.60" font-size="14.5" font-weight="normal" text-anchor="middle" fill="#000">LN</text>
<text x="46.70" y="950.80" font-size="14.4" font-weight="normal" text-anchor="middle" fill="#000" transform="rotate(-90 46.70 950.80)" textLength="161" lengthAdjust="spacingAndGlyphs">MFI ratio PD-L1 / isotype</text>
<rect x="94" y="1051" width="12.5" height="5" fill="#7ff" opacity="0.35"/>
<rect x="98" y="1051" width="1.6" height="2.4" fill="#e33"/>
<rect x="106" y="1056" width="1.6" height="2.6" fill="#e33"/>
<line x1="436.60" y1="828.00" x2="436.60" y2="1059.00" stroke="#231815" stroke-width="2.3" stroke-linecap="butt"/>
<line x1="426.00" y1="1040.00" x2="436.60" y2="1040.00" stroke="#231815" stroke-width="2.3" stroke-linecap="butt"/>
<text x="422.00" y="1045.72" font-size="14.3" font-weight="bold" text-anchor="end" fill="#000">100</text>
<line x1="426.00" y1="1021.70" x2="436.60" y2="1021.70" stroke="#231815" stroke-width="2.3" stroke-linecap="butt"/>
<text x="422.00" y="1027.42" font-size="14.3" font-weight="bold" text-anchor="end" fill="#000">200</text>
<line x1="426.00" y1="986.70" x2="436.60" y2="986.70" stroke="#231815" stroke-width="2.3" stroke-linecap="butt"/>
<text x="422.00" y="992.42" font-size="14.3" font-weight="bold" text-anchor="end" fill="#000">1000</text>
<line x1="426.00" y1="916.70" x2="436.60" y2="916.70" stroke="#231815" stroke-width="2.3" stroke-linecap="butt"/>
<text x="422.00" y="922.42" font-size="14.3" font-weight="bold" text-anchor="end" fill="#000">2000</text>
<line x1="426.00" y1="845.50" x2="436.60" y2="845.50" stroke="#231815" stroke-width="2.3" stroke-linecap="butt"/>
<text x="422.00" y="851.22" font-size="14.3" font-weight="bold" text-anchor="end" fill="#000">3000</text>
<text x="422.00" y="1064.52" font-size="14.3" font-weight="bold" text-anchor="end" fill="#000">0</text>
<polygon points="430.7,1010.0 443.4,1006.6 443.4,1010.0 430.7,1013.7" fill="#fff"/>
<line x1="430.70" y1="1010.00" x2="443.40" y2="1006.60" stroke="#231815" stroke-width="1.5" stroke-linecap="butt"/>
<line x1="430.70" y1="1013.70" x2="443.40" y2="1010.00" stroke="#231815" stroke-width="1.5" stroke-linecap="butt"/>
<rect x="476.15" y="1000.05" width="72.10" height="57.75" fill="#a50d5d" stroke="#231815" stroke-width="3.5"/>
<line x1="511.90" y1="907.10" x2="511.90" y2="1057.80" stroke="#222" stroke-width="1.4" stroke-linecap="butt"/>
<line x1="492.70" y1="907.10" x2="530.80" y2="907.10" stroke="#222" stroke-width="1.4" stroke-linecap="butt"/>
<circle cx="511.90" cy="892.80" r="3.4" fill="#000"/>
<circle cx="511.90" cy="1031.20" r="3.4" fill="#000"/>
<circle cx="512.20" cy="1049.20" r="3.4" fill="#000"/>
<line x1="426.00" y1="1057.80" x2="589.70" y2="1057.80" stroke="#000" stroke-width="2.4" stroke-linecap="butt"/>
<line x1="511.90" y1="1057.80" x2="511.90" y2="1068.40" stroke="#000" stroke-width="2.4" stroke-linecap="butt"/>
<line x1="545.00" y1="1051.30" x2="551.00" y2="1051.30" stroke="#e22" stroke-width="0.8" stroke-linecap="butt"/>
<line x1="545.00" y1="1053.30" x2="551.00" y2="1053.30" stroke="#e22" stroke-width="0.8" stroke-linecap="butt"/>
<line x1="545.00" y1="1055.30" x2="551.00" y2="1055.30" stroke="#e22" stroke-width="0.8" stroke-linecap="butt"/>
<text x="511.60" y="1083.80" font-size="14.4" font-weight="normal" text-anchor="middle" fill="#000">Ascites</text>
<text x="376.90" y="950.30" font-size="14.2" font-weight="normal" text-anchor="middle" fill="#000" transform="rotate(-90 376.90 950.30)" textLength="160.5" lengthAdjust="spacingAndGlyphs">MFI ratio PD-L1 / isotype</text>
<circle cx="586.00" cy="893.00" r="4.5" fill="none" stroke="#000" stroke-width="2.35"/>
<circle cx="586.20" cy="921.90" r="4.5" fill="#000"/>
<text x="601.30" y="896.70" font-size="14.65" font-weight="normal" text-anchor="start" fill="#000">Normal plasma cells</text>
<text x="601.00" y="925.90" font-size="14.65" font-weight="normal" text-anchor="start" fill="#000">Malignant plasma cells</text>
</svg>
</body></html>
